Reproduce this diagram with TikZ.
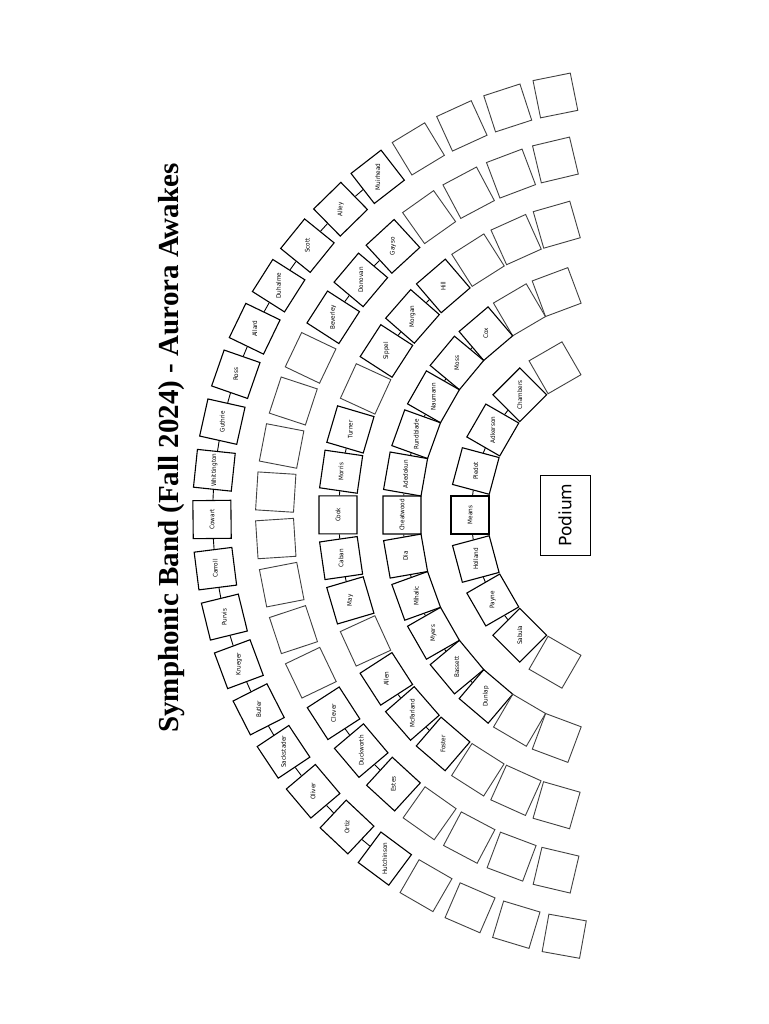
\documentclass[tikz,border=0pt]{standalone}
\usepackage{fontspec}
\usepackage{graphicx}
\setmainfont{DejaVu Sans}
\newfontfamily\titlefont{Liberation Serif}
\newfontfamily\seatfont{DejaVu Sans Condensed}
\tikzset{
  seat/.style={draw=black,line width=1.1pt,minimum size=38pt,inner sep=0pt,font=\seatfont\fontsize{6.3}{7}\selectfont},
  blank/.style={draw=black!75,line width=0.9pt,minimum size=38pt,inner sep=0pt},
  conn/.style={draw=black,line width=0.9pt}
}
\newcommand\mkseat[7]{%
  \pgfmathsetmacro\ang{#3+#4*#5}%
  \pgfmathsetmacro\xx{640+#2*cos(\ang)}%
  \pgfmathsetmacro\yy{-515+#2*sin(\ang)}%
  \pgfmathsetmacro\rot{\ang-90}%
  \pgfmathsetmacro\trot{90-\rot}%
  \node[#6,rotate=\rot] (s#1-#5) at (\xx pt,\yy pt) {\rotatebox{\trot}{#7}};}
\begin{document}
\begin{tikzpicture}
\useasboundingbox (0pt,0pt) rectangle (768pt,-1024pt);
\fill[white] (0pt,0pt) rectangle (768pt,-1024pt);
\node[rotate=90,font=\titlefont\bfseries\fontsize{29}{30}\selectfont] (title) at (172pt,-448pt) {Symphonic Band (Fall 2024) - Aurora Awakes};
\node[draw,line width=1pt,rotate=90,minimum width=80pt,minimum height=50pt,font=\fontsize{17}{18}\selectfont] (podium) at (565pt,-515pt) {Podium};
% row 4
\foreach \i/\nm in {0/,1/,2/,3/,4/Muirhead,5/Alley,6/Scott,7/Duhalme,8/Allard,9/Ross,10/Guthrie,11/Whittington,12/Cowart,13/Carroll,14/Purvis,15/Krueger,16/Butler,17/Sackstader,18/Oliver,19/Ortiz,20/Hutchinson,21/,22/,23/,24/}{
  \ifx\nm\empty \mkseat{4}{428}{101.4}{6.6}{\i}{blank}{} \else \mkseat{4}{428}{101.4}{6.6}{\i}{seat}{\nm} \fi}
% row 3
\foreach \i/\nm in {0/,1/,2/,3/,4/Gayso,5/Donovan,6/Beverley,7/,8/,9/,10/,11/,12/,13/,14/,15/Clever,16/Duckworth,17/Estes,18/,19/,20/,21/}{
  \ifx\nm\empty \mkseat{3}{365}{103.4}{7.3}{\i}{blank}{} \else \mkseat{3}{365}{103.4}{7.3}{\i}{seat}{\nm} \fi}
% row 2
\foreach \i/\nm in {0/,1/,2/,3/Hill,4/Morgan,5/Sippel,6/,7/Turner,8/Morris,9/Cook,10/Caban,11/May,12/,13/Allen,14/McFarland,15/Foster,16/,17/,18/}{
  \ifx\nm\empty \mkseat{2}{302}{106}{8.22}{\i}{blank}{} \else \mkseat{2}{302}{106}{8.22}{\i}{seat}{\nm} \fi}
% row 1
\foreach \i/\nm in {0/,1/,2/Cox,3/Moss,4/Naumann,5/Rundblade,6/Adedokun,7/Cheatwood,8/Dia,9/Mihalic,10/Myers,11/Bassett,12/Dunlap,13/,14/}{
  \ifx\nm\empty \mkseat{1}{238}{110.5}{9.93}{\i}{blank}{} \else \mkseat{1}{238}{110.5}{9.93}{\i}{seat}{\nm} \fi}
% row 0
\foreach \i/\nm in {0/,1/Chambers,2/Adkerson,3/Pledot,4/Means,5/Holland,6/Payne,7/Sabula,8/}{
  \ifx\nm\empty \mkseat{0}{170}{120}{15}{\i}{blank}{} \else \mkseat{0}{170}{120}{15}{\i}{seat}{\nm} \fi}
% connectors
\foreach \r/\a/\b in {4/4/5,4/5/6,4/6/7,4/7/8,4/8/9,4/9/10,4/10/11,4/11/12,4/12/13,4/13/14,4/14/15,4/15/16,4/16/17,4/17/18,4/18/19,4/19/20,
  3/4/5,3/5/6,3/15/16,3/16/17,
  2/3/4,2/4/5,2/7/8,2/8/9,2/9/10,2/10/11,2/13/14,2/14/15,
  1/2/3,1/3/4,1/4/5,1/5/6,1/6/7,1/7/8,1/8/9,1/9/10,1/10/11,1/11/12,
  0/1/2,0/2/3,0/3/4,0/4/5,0/5/6,0/6/7}{
  \draw[conn] (s\r-\a) -- (s\r-\b);}
\end{tikzpicture}
\end{document}
